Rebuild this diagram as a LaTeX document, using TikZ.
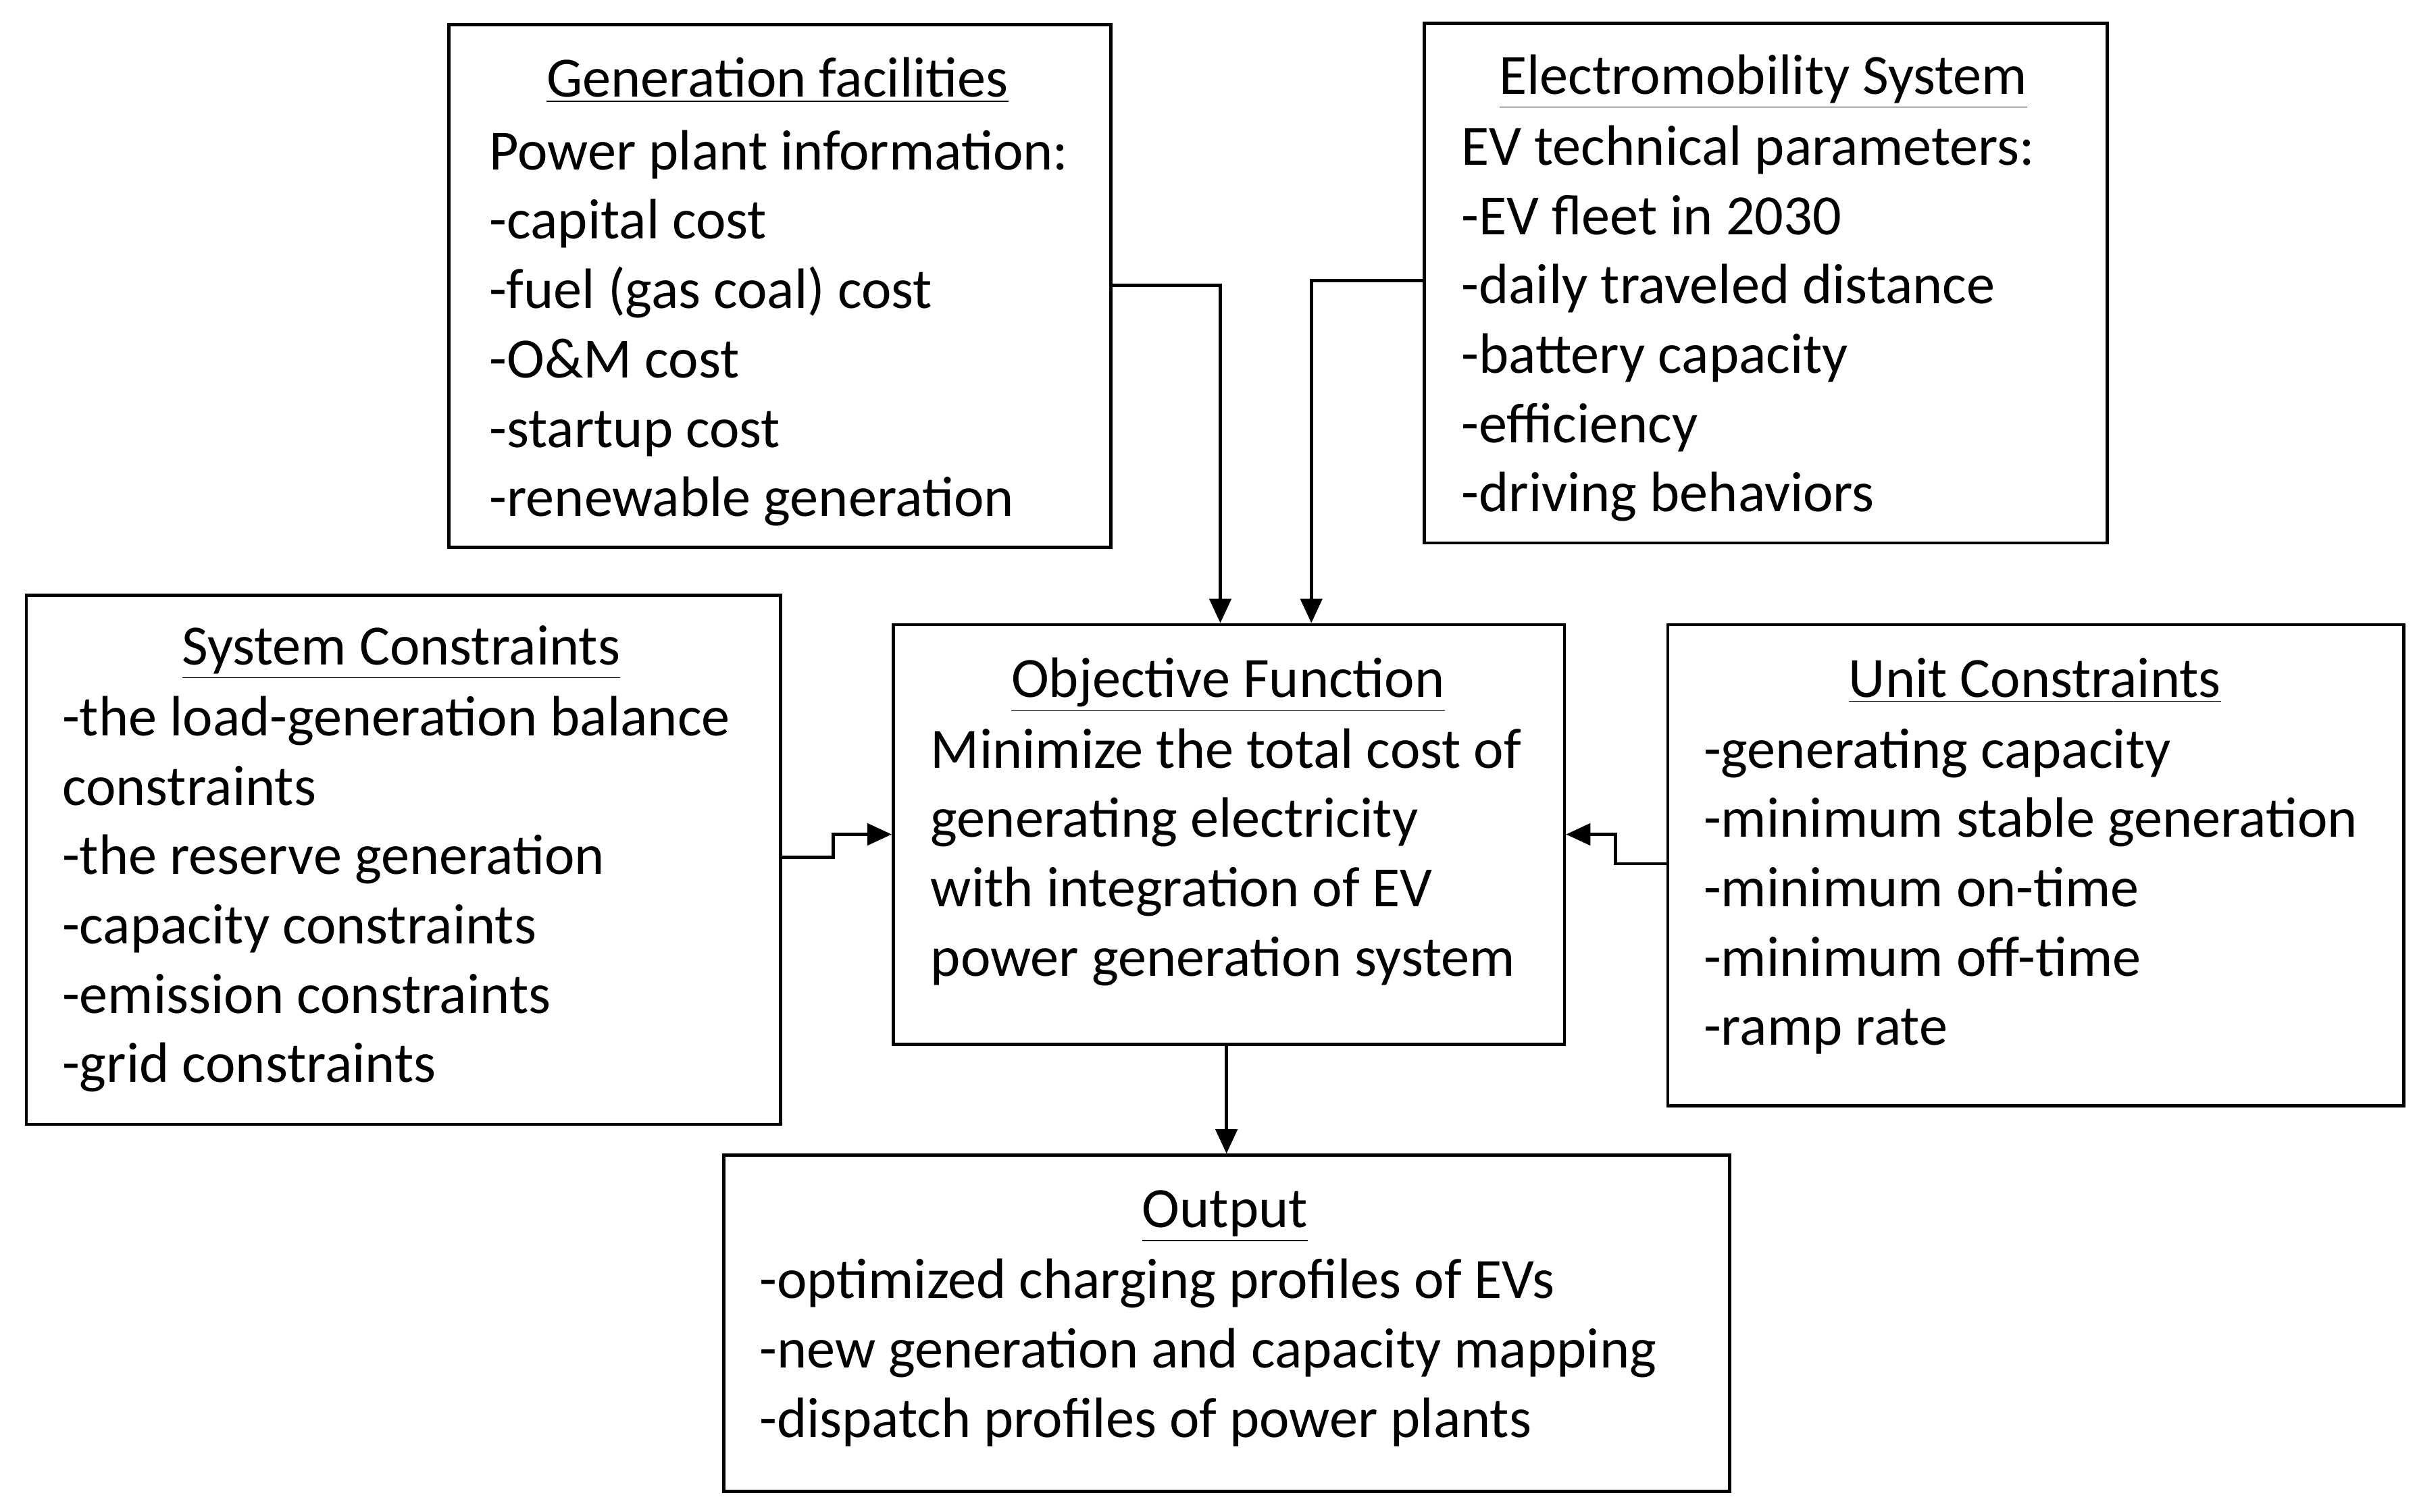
\documentclass[tikz,border=0pt]{standalone}
\usepackage{fontspec}
\setmainfont{Carlito}
\usetikzlibrary{arrows.meta}
\begin{document}
\begin{tikzpicture}[x=0.02cm,y=-0.02cm,
  box/.style={draw,line width=1.2pt,inner sep=0pt,anchor=north west},
  body/.style={align=left,anchor=north west,inner sep=0pt,font=\fontsize{21}{25.6}\selectfont},
  ttl/.style={anchor=base,inner sep=0pt,font=\fontsize{21}{25.6}\selectfont},
  conn/.style={line width=1.2pt,-{Triangle[length=9pt,width=8pt]}}]
\useasboundingbox (0,0) rectangle (1568,980);
\node[box,minimum width=429*0.02cm,minimum height=339*0.02cm] (gen) at (290,15) {};
\node[box,minimum width=443*0.02cm,minimum height=337*0.02cm] (ems) at (922,14) {};
\node[box,minimum width=489*0.02cm,minimum height=343*0.02cm] (sys) at (16,385) {};
\node[box,minimum width=435*0.02cm,minimum height=272*0.02cm] (obj) at (578,404) {};
\node[box,minimum width=477*0.02cm,minimum height=312*0.02cm] (unit) at (1080,404) {};
\node[box,minimum width=652*0.02cm,minimum height=218*0.02cm] (out) at (468,748) {};

\node[ttl] (gent) at (504,63) {\underline{Generation facilities}};
\node[body] (genb) at (317,84) {Power plant information:\\-capital cost\\-fuel (gas coal) cost\\-O\&M cost\\-startup cost\\-renewable generation};
\node[ttl] (emst) at (1143,61) {\underline{Electromobility System}};
\node[body] (emsb) at (947,81) {EV technical parameters:\\-EV fleet in 2030\\-daily traveled distance\\-battery capacity\\-efficiency\\-driving behaviors};
\node[ttl] (syst) at (260,431) {\underline{System Constraints}};
\node[body] (sysb) at (40,451) {-the load-generation balance\\constraints\\-the reserve generation\\-capacity constraints\\-emission constraints\\-grid constraints};
\node[ttl] (objt) at (796,452) {\underline{Objective Function}};
\node[body] (objb) at (603,472) {Minimize the total cost of\\generating electricity\\with integration of EV\\power generation system};
\node[ttl] (unitt) at (1319,452) {\underline{Unit Constraints}};
\node[body] (unitb) at (1104,472) {-generating capacity\\-minimum stable generation\\-minimum on-time\\-minimum off-time\\-ramp rate};
\node[ttl] (outt) at (794,796) {\underline{Output}};
\node[body] (outb) at (492,816) {-optimized charging profiles of EVs\\-new generation and capacity mapping\\-dispatch profiles of power plants};

\coordinate (g1) at (gen.east |- 0,185);
\coordinate (e1) at (ems.west |- 0,182);
\draw[conn] (g1) -| (obj.north -| 791,0);
\draw[conn] (e1) -| (obj.north -| 850,0);
\coordinate (s1) at (sys.east |- 0,556);
\draw[conn] (s1) -- (540,556) -- (540,541) -- (obj.west |- 0,541);
\coordinate (u1) at (unit.west |- 0,560);
\draw[conn] (u1) -- (1047,560) -- (1047,541) -- (obj.east |- 0,541);
\draw[conn] (obj.south -| 795,0) -- (out.north -| 795,0);
\end{tikzpicture}
\end{document}
